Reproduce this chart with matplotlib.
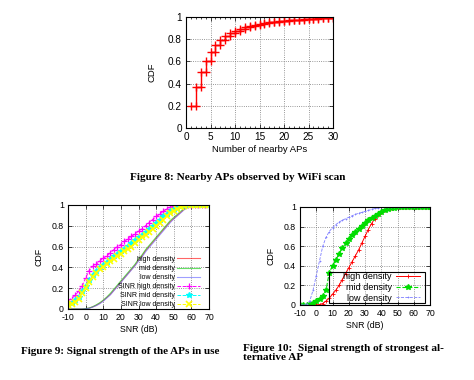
import matplotlib
matplotlib.use("Agg")
import matplotlib.pyplot as plt
from matplotlib.patches import Rectangle
from matplotlib.ticker import MultipleLocator

plt.rcParams['font.family'] = ['Liberation Sans', 'DejaVu Sans']
plt.rcParams['axes.unicode_minus'] = False

# Figure 8: nearby APs
n_aps = [1, 2, 3, 4, 5, 6, 7, 8, 9, 10, 11, 12, 13, 14, 15,
         16, 17, 18, 19, 20, 21, 22, 23, 24, 25, 26, 27, 28, 29, 30]
cdf_aps = [0.196, 0.366, 0.505, 0.607, 0.686, 0.75, 0.79, 0.825, 0.853, 0.875,
           0.893, 0.907, 0.918, 0.928, 0.937, 0.945, 0.952, 0.957, 0.962, 0.966,
           0.970, 0.973, 0.976, 0.979, 0.982, 0.985, 0.987, 0.989, 0.991, 0.993]

# SNR grid (dB) shared by figures 9 and 10
snr_db = [-10, -8, -6, -4, -2, 0, 2, 4, 6, 8,
          10, 12, 14, 16, 18, 20, 22, 24, 26, 28,
          30, 32, 34, 36, 38, 40, 42, 44, 46, 48,
          50, 52, 54, 56, 58, 60, 62, 64, 66, 68, 70]

# Figure 9
f9_high = [0, 0, 0, 0, 0, 0.003, 0.008, 0.02, 0.035, 0.055,
           0.08, 0.11, 0.14, 0.18, 0.22, 0.26, 0.3, 0.34, 0.38, 0.42,
           0.47, 0.51, 0.56, 0.6, 0.64, 0.68, 0.72, 0.76, 0.8, 0.84,
           0.87, 0.9, 0.93, 0.96, 0.98, 0.99, 1, 1, 1, 1, 1]
f9_mid = [0, 0, 0, 0, 0, 0.004, 0.01, 0.022, 0.04, 0.06,
          0.085, 0.115, 0.15, 0.19, 0.23, 0.27, 0.31, 0.35, 0.39, 0.43,
          0.48, 0.52, 0.57, 0.61, 0.65, 0.69, 0.73, 0.77, 0.81, 0.85,
          0.88, 0.91, 0.94, 0.965, 0.985, 0.995, 1, 1, 1, 1, 1]
f9_low = [0, 0, 0, 0, 0, 0.002, 0.007, 0.018, 0.032, 0.05,
          0.075, 0.105, 0.135, 0.175, 0.215, 0.255, 0.295, 0.335, 0.375, 0.415,
          0.46, 0.5, 0.55, 0.59, 0.63, 0.67, 0.71, 0.75, 0.79, 0.83,
          0.865, 0.895, 0.925, 0.955, 0.975, 0.99, 1, 1, 1, 1, 1]
f9_sinr_high = [0.08, 0.1, 0.13, 0.17, 0.22, 0.3, 0.37, 0.41, 0.43, 0.46,
                0.49, 0.51, 0.54, 0.57, 0.6, 0.62, 0.65, 0.67, 0.7, 0.72,
                0.75, 0.77, 0.8, 0.83, 0.86, 0.89, 0.91, 0.94, 0.96, 0.98,
                0.99, 1, 1, 1, 1, 1, 1, 1, 1, 1, 1]
f9_sinr_mid = [0.05, 0.06, 0.09, 0.12, 0.17, 0.22, 0.28, 0.33, 0.37, 0.4,
               0.42, 0.45, 0.48, 0.51, 0.53, 0.56, 0.58, 0.61, 0.63, 0.66,
               0.69, 0.71, 0.74, 0.77, 0.8, 0.83, 0.86, 0.89, 0.91, 0.94,
               0.96, 0.975, 0.99, 0.995, 1, 1, 1, 1, 1, 1, 1]
f9_sinr_low = [0.04, 0.05, 0.07, 0.1, 0.15, 0.2, 0.26, 0.31, 0.35, 0.38,
               0.4, 0.43, 0.46, 0.48, 0.51, 0.53, 0.56, 0.58, 0.6, 0.63,
               0.66, 0.69, 0.71, 0.74, 0.77, 0.8, 0.83, 0.86, 0.89, 0.92,
               0.94, 0.96, 0.98, 0.99, 1, 1, 1, 1, 1, 1, 1]

# Figure 10
f10_high = [0, 0, 0, 0, 0, 0.002, 0.005, 0.015, 0.04, 0.07,
            0.11, 0.15, 0.2, 0.26, 0.32, 0.38, 0.44, 0.5, 0.56, 0.63,
            0.7, 0.77, 0.83, 0.88, 0.92, 0.95, 0.97, 0.985, 0.993, 0.997,
            1, 1, 1, 1, 1, 1, 1, 1, 1, 1, 1]
f10_mid = [0, 0, 0.005, 0.01, 0.02, 0.04, 0.06, 0.09, 0.15, 0.33,
           0.4, 0.46, 0.52, 0.58, 0.63, 0.67, 0.71, 0.75, 0.78, 0.81,
           0.84, 0.87, 0.89, 0.91, 0.93, 0.95, 0.965, 0.975, 0.985, 0.99,
           0.995, 1, 1, 1, 1, 1, 1, 1, 1, 1, 1]
f10_low = [0, 0.002, 0.01, 0.04, 0.15, 0.3, 0.45, 0.6, 0.69, 0.75,
           0.79, 0.82, 0.845, 0.865, 0.88, 0.895, 0.91, 0.925, 0.935, 0.945,
           0.955, 0.965, 0.975, 0.985, 0.99, 0.995, 1, 1, 1, 1,
           1, 1, 1, 1, 1, 1, 1, 1, 1, 1, 1]

cdf_ticks = [0, 0.2, 0.4, 0.6, 0.8, 1]
cdf_labels = ['0', '0.2', '0.4', '0.6', '0.8', '1']

FS = 6.3


def style(ax, xmin, xmax, xstep, xminor=None, fs=FS):
    ax.set_xlim(xmin, xmax)
    ax.set_ylim(0, 1)
    ax.xaxis.set_major_locator(MultipleLocator(xstep))
    ax.set_yticks(cdf_ticks, cdf_labels)
    if xminor:
        ax.xaxis.set_minor_locator(MultipleLocator(xminor))
    ax.tick_params(direction='in', top=True, right=True, length=3, width=0.5,
                   labelsize=fs, pad=3)
    ax.tick_params(which='minor', direction='in', top=True, right=True,
                   length=1.5, width=0.5)
    ax.grid(True, linestyle=':', color='#777777', linewidth=0.6)
    for s in ax.spines.values():
        s.set_linewidth(0.8)
    ax.set_ylabel('CDF', fontsize=FS, labelpad=6)


fig = plt.figure(figsize=(4.74, 3.8), dpi=100)

# ---- Figure 8
ax1 = fig.add_axes([186 / 474, 1 - 128 / 380, 147 / 474, 111 / 380])
ax1.step(n_aps, cdf_aps, where='post', color='red', linewidth=1)
ax1.plot(n_aps, cdf_aps, '+', color='red', markersize=5.5, markeredgewidth=1)
ax1.plot([n + 1 for n in n_aps], cdf_aps, '+', color='red', markersize=5.5,
         markeredgewidth=1)
style(ax1, 0, 30, 5, 1, fs=7.2)
ax1.set_xlabel('Number of nearby APs', fontsize=6.8, labelpad=2)
ax1.set_ylabel('CDF', fontsize=6.8, labelpad=8)
fig.text(238 / 474, 1 - 177 / 380, 'Figure 8: Nearby APs observed by WiFi scan',
         family='Liberation Serif', weight='bold', fontsize=8.1,
         ha='center', va='center')

# ---- Figure 9
ax2 = fig.add_axes([68 / 474, 1 - 309 / 380, 141 / 474, 104 / 380])
ax2.plot(snr_db, f9_high, color='red', linewidth=0.8, alpha=0.6,
         label='high density')
ax2.plot(snr_db, f9_mid, color='#00cc00', linewidth=0.8, alpha=0.6,
         label='mid density')
ax2.plot(snr_db, f9_low, color='#6060ff', linewidth=0.8, alpha=0.6,
         label='low density')
ax2.plot(snr_db, f9_sinr_high, color='magenta', linestyle='--', linewidth=0.7,
         marker='+', markersize=4, markeredgewidth=0.9, label='SINR high density')
ax2.plot(snr_db, f9_sinr_mid, color='cyan', linestyle='--', linewidth=0.7,
         marker='*', markersize=4, label='SINR mid density')
ax2.plot(snr_db, f9_sinr_low, color='yellow', linestyle='--', linewidth=0.7,
         marker='x', markersize=4, markeredgewidth=1.2, label='SINR low density')
style(ax2, -10, 70, 10)
ax2.set_xlabel('SNR (dB)', fontsize=FS, labelpad=2)
ax2.legend(loc='lower right', bbox_to_anchor=(1 - 8 / 141, 0.0), frameon=False,
           fontsize=5, markerfirst=False, labelspacing=0.3, handlelength=3.3,
           handletextpad=0.4, borderpad=0.1, borderaxespad=0)
fig.text(21 / 474, 1 - 352 / 380, 'Figure 9: Signal strength of the APs in use',
         family='Liberation Serif', weight='bold', fontsize=8,
         ha='left', va='center')

# ---- Figure 10
ax3 = fig.add_axes([300 / 474, 1 - 305 / 380, 130 / 474, 98 / 380])
ax3.plot(snr_db, f10_high, color='red', linewidth=0.7, marker='+',
         markersize=2.5, markeredgewidth=0.6, label='high density')
ax3.plot(snr_db, f10_mid, color='#00dd00', linestyle='--', linewidth=0.8,
         marker='*', markersize=4, label='mid density')
ax3.plot(snr_db, f10_low, color='#8080ff', linestyle='--', linewidth=0.6,
         marker='+', markersize=2, markeredgewidth=0.5, label='low density')
style(ax3, -10, 70, 10)
ax3.set_xlabel('SNR (dB)', fontsize=FS, labelpad=2)
ax3.legend(loc='lower right', bbox_to_anchor=(0.925, 0.025), frameon=False,
           fontsize=6.5, markerfirst=False, labelspacing=0.2, handlelength=2.7,
           handletextpad=0.45, borderpad=0, borderaxespad=0)
ax3.add_patch(Rectangle((0.223, 0.02), 0.737, 0.317, transform=ax3.transAxes,
                        fill=False, edgecolor='black', linewidth=0.8, zorder=4))
fig.text(243 / 474, 1 - 353 / 380,
         'Figure 10:  Signal strength of strongest al-\nternative AP',
         family='Liberation Serif', weight='bold', fontsize=8.1,
         ha='left', va='center', linespacing=1.05)

fig.savefig('out.png', dpi=100)
